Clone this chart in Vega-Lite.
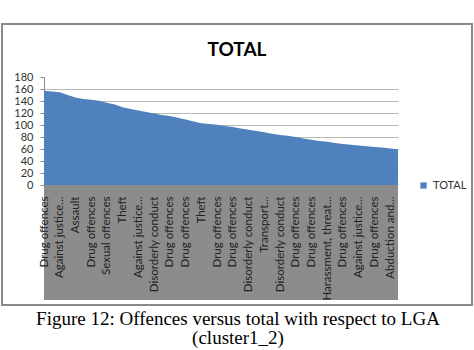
{
  "$schema": "https://vega.github.io/schema/vega-lite/v6.json",
  "width": 470,
  "height": 281,
  "autosize": {"type": "none"},
  "padding": {"left": 2, "top": 24, "right": 2, "bottom": 45},
  "background": "white",
  "title": {"text": "TOTAL", "font": "Lato", "fontSize": 19, "fontWeight": "bold", "color": "#000000", "dy": 40, "anchor": "middle"},
  "config": {
    "view": {"stroke": "#8a8a8a", "strokeWidth": 2},
    "axisY": {
      "labelOverlap": false,
      "labelFont": "Lato",
      "labelFontSize": 11,
      "labelColor": "#333333",
      "tickSize": 4,
      "tickColor": "#888888",
      "labelPadding": 7,
      "domainColor": "#888888",
      "grid": true,
      "gridColor": "#b8b8b8"
    }
  },
  "data": {"values": [
    {"key": "00|Drug offences", "total": 157},
    {"key": "01|Drug offences", "total": 156},
    {"key": "02|Against justice...", "total": 154.5},
    {"key": "03|Assault", "total": 150},
    {"key": "04|Assault", "total": 146},
    {"key": "05|Theft", "total": 143.5},
    {"key": "06|Drug offences", "total": 142},
    {"key": "07|Assault", "total": 140.5},
    {"key": "08|Sexual offences", "total": 137},
    {"key": "09|Theft", "total": 134},
    {"key": "10|Theft", "total": 129.5},
    {"key": "11|Drug offences", "total": 126.5},
    {"key": "12|Against justice...", "total": 124},
    {"key": "13|Assault", "total": 121.5},
    {"key": "14|Disorderly conduct", "total": 119},
    {"key": "15|Theft", "total": 116.5},
    {"key": "16|Drug offences", "total": 115},
    {"key": "17|Assault", "total": 112},
    {"key": "18|Drug offences", "total": 109},
    {"key": "19|Theft", "total": 106},
    {"key": "20|Theft", "total": 103},
    {"key": "21|Drug offences", "total": 101.5},
    {"key": "22|Drug offences", "total": 100.5},
    {"key": "23|Assault", "total": 98.5},
    {"key": "24|Drug offences", "total": 96.5},
    {"key": "25|Theft", "total": 94},
    {"key": "26|Disorderly conduct", "total": 92},
    {"key": "27|Drug offences", "total": 90},
    {"key": "28|Transport...", "total": 88},
    {"key": "29|Theft", "total": 85.5},
    {"key": "30|Disorderly conduct", "total": 83.5},
    {"key": "31|Assault", "total": 82},
    {"key": "32|Drug offences", "total": 80},
    {"key": "33|Theft", "total": 77.5},
    {"key": "34|Drug offences", "total": 75.5},
    {"key": "35|Assault", "total": 73.5},
    {"key": "36|Harassment, threat...", "total": 72},
    {"key": "37|Drug offences", "total": 70},
    {"key": "38|Drug offences", "total": 68.5},
    {"key": "39|Theft", "total": 67},
    {"key": "40|Against justice...", "total": 66},
    {"key": "41|Drug offences", "total": 64.5},
    {"key": "42|Drug offences", "total": 63.5},
    {"key": "43|Assault", "total": 62.5},
    {"key": "44|Abduction and...", "total": 61},
    {"key": "45|Drug offences", "total": 59.5}
  ]},
  "encoding": {
    "x": {
      "field": "key",
      "type": "ordinal",
      "sort": null,
      "scale": {"type": "point", "range": [42, 396], "padding": 0},
      "axis": {
        "orient": "bottom",
        "offset": -120,
        "zindex": 2,
        "labelAngle": -90,
        "labelExpr": "parseInt(slice(datum.value, 0, 2)) % 2 == 0 ? slice(datum.value, 3) : ''",
        "labelOverlap": false,
        "ticks": false,
        "domain": false,
        "grid": false,
        "labelPadding": 11,
        "labelFont": "Lato",
        "labelFontSize": 11.5,
        "labelColor": "#222222",
        "title": ["Figure 12: Offences versus total with respect to LGA", "(cluster1_2)"],
        "titleFont": "Liberation Serif",
        "titleFontSize": 19,
        "titleFontWeight": "normal",
        "titleColor": "#000000",
        "titleX": 235.5,
        "titleY": 124,
        "titleAlign": "center",
        "titleBaseline": "top",
        "titleLineHeight": 19
      }
    }
  },
  "layer": [
    {
      "mark": {"type": "area", "color": "#8c8c8c"},
      "encoding": {
        "y": {
          "datum": -191.67,
          "type": "quantitative",
          "scale": {"domain": [0, 180], "range": [161, 53], "nice": false},
          "axis": {
            "title": null,
            "values": [0, 20, 40, 60, 80, 100, 120, 140, 160, 180],
            "offset": -42,
            "gridOpacity": {"condition": {"test": "datum.value >= 180", "value": 0}, "value": 1}
          }
        },
        "y2": {"datum": 0}
      }
    },
    {
      "mark": {"type": "area"},
      "encoding": {
        "y": {
          "field": "total",
          "type": "quantitative",
          "scale": {"domain": [0, 180], "range": [161, 53], "nice": false},
          "axis": {
            "title": null,
            "values": [0, 20, 40, 60, 80, 100, 120, 140, 160, 180],
            "offset": -42,
            "gridOpacity": {"condition": {"test": "datum.value >= 180", "value": 0}, "value": 1}
          }
        },
        "fill": {
          "datum": "TOTAL",
          "type": "nominal",
          "scale": {"range": ["#4f81bd"]},
          "legend": {
            "title": null,
            "orient": "none",
            "legendX": 416,
            "legendY": 156,
            "symbolType": "square",
            "symbolSize": 40,
            "symbolStrokeWidth": 0,
            "labelFont": "Lato",
            "labelFontSize": 11,
            "labelColor": "#333333"
          }
        }
      }
    }
  ]
}
